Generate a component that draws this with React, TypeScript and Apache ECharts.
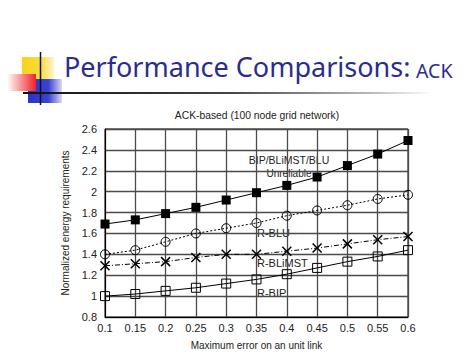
import React, { useEffect, useRef } from "react";
import * as echarts from "echarts";

const xValues = [0.1, 0.15, 0.2, 0.25, 0.3, 0.35, 0.4, 0.45, 0.5, 0.55, 0.6];
const unreliable = [1.69, 1.73, 1.79, 1.85, 1.92, 1.99, 2.06, 2.14, 2.25, 2.36, 2.49];
const rBLU = [1.4, 1.44, 1.52, 1.6, 1.65, 1.7, 1.77, 1.82, 1.87, 1.93, 1.97];
const rBLiMST = [1.29, 1.31, 1.33, 1.37, 1.4, 1.4, 1.43, 1.46, 1.5, 1.54, 1.57];
const rBIP = [1.0, 1.02, 1.05, 1.08, 1.12, 1.16, 1.21, 1.27, 1.33, 1.38, 1.44];

const FONT = "Liberation Sans, Arial, sans-serif";
const NAVY = "#2b2d8e";

function pairs(ys: number[]) {
  return xValues.map((x, i) => [x, ys[i]]);
}

export default function App() {
  const ref = useRef<HTMLDivElement>(null);
  useEffect(() => {
    if (!ref.current) return;
    const chart = echarts.init(ref.current, null, { renderer: "svg" });
    const baseLine = { color: "#000", width: 1 };
    chart.setOption({
      animation: false,
      backgroundColor: "#fff",
      grid: { left: 105, right: 66, top: 129, bottom: 36, show: true, borderColor: "#000", borderWidth: 1 },
      xAxis: {
        type: "value",
        min: 0.1,
        max: 0.6,
        interval: 0.05,
        name: "Maximum error on an unit link",
        nameLocation: "middle",
        nameGap: 23,
        nameTextStyle: { fontFamily: FONT, fontSize: 10, color: "#222" },
        axisLine: { show: true, lineStyle: { color: "#000" } },
        axisTick: { show: false },
        axisLabel: {
          fontFamily: FONT,
          fontSize: 11,
          color: "#222",
          margin: 5,
          formatter: (v: number) => String(Math.round(v * 100) / 100),
        },
        splitLine: { show: true, lineStyle: { color: "#4a4a4a", width: 1.3 } },
      },
      yAxis: {
        type: "value",
        min: 0.8,
        max: 2.6,
        interval: 0.2,
        name: "Normalized energy requirements",
        nameLocation: "middle",
        nameGap: 26,
        nameTextStyle: { fontFamily: FONT, fontSize: 10, color: "#222" },
        axisLine: { show: true, lineStyle: { color: "#000" } },
        axisTick: { show: false },
        axisLabel: {
          fontFamily: FONT,
          fontSize: 11,
          color: "#222",
          margin: 8,
          formatter: (v: number) => String(Math.round(v * 10) / 10),
        },
        splitLine: { show: true, lineStyle: { color: "#4a4a4a", width: 1.3 } },
      },
      series: [
        {
          name: "BIP/BLiMST/BLU Unreliable",
          type: "line",
          data: pairs(unreliable),
          symbol: "rect",
          symbolSize: 9,
          lineStyle: { ...baseLine, type: "solid" },
          itemStyle: { color: "#000" },
        },
        {
          name: "R-BLU",
          type: "line",
          data: pairs(rBLU),
          symbol: "circle",
          symbolSize: 9,
          lineStyle: { ...baseLine, type: [2, 2] },
          itemStyle: { color: "rgba(0,0,0,0)", borderColor: "#000", borderWidth: 1 },
        },
        {
          name: "R-BLiMST",
          type: "line",
          data: pairs(rBLiMST),
          symbol: "path://M0,0L10,10M10,0L0,10",
          symbolSize: 9,
          lineStyle: { ...baseLine, type: [5, 2, 1, 2] },
          itemStyle: { color: "rgba(0,0,0,0)", borderColor: "#000", borderWidth: 1.5 },
        },
        {
          name: "R-BIP",
          type: "line",
          data: pairs(rBIP),
          symbol: "rect",
          symbolSize: 9,
          lineStyle: { ...baseLine, type: "solid" },
          itemStyle: { color: "rgba(0,0,0,0)", borderColor: "#000", borderWidth: 1 },
        },
      ],
      graphic: [
        {
          type: "rect",
          shape: { x: 22, y: 57, width: 32, height: 31 },
          style: {
            fill: new echarts.graphic.LinearGradient(0, 0, 1, 0, [
              { offset: 0, color: "#f7d417" },
              { offset: 0.6, color: "#f8dc40" },
              { offset: 1, color: "#fdf6d0" },
            ]),
          },
        },
        {
          type: "rect",
          shape: { x: 28, y: 79, width: 34, height: 24 },
          style: {
            fill: new echarts.graphic.LinearGradient(0, 0, 1, 0, [
              { offset: 0, color: "#2b33c8" },
              { offset: 0.6, color: "#3a42d0" },
              { offset: 1, color: "#d8daf4" },
            ]),
          },
        },
        {
          type: "rect",
          shape: { x: 7, y: 74, width: 29, height: 17 },
          style: {
            fill: new echarts.graphic.LinearGradient(0, 0, 1, 0, [
              { offset: 0, color: "#ffffff" },
              { offset: 1, color: "#f0202a" },
            ]),
          },
        },
        {
          type: "rect",
          shape: { x: 23, y: 92, width: 410, height: 2 },
          style: {
            fill: new echarts.graphic.LinearGradient(0, 0, 1, 0, [
              { offset: 0, color: "#111" },
              { offset: 0.5, color: "#444" },
              { offset: 0.85, color: "#bbb" },
              { offset: 1, color: "#fff" },
            ]),
          },
        },
        {
          type: "line",
          shape: { x1: 40.5, y1: 52, x2: 40.5, y2: 105 },
          style: { stroke: "#111", lineWidth: 1.5 },
        },
        {
          type: "text",
          x: 64,
          y: 80,
          style: {
            text: "Performance Comparisons:",
            fontFamily: "Noto Sans, sans-serif",
            fontSize: 27,
            fill: NAVY,
            textVerticalAlign: "bottom",
          },
        },
        {
          type: "text",
          x: 416,
          y: 80,
          style: {
            text: "ACK",
            fontFamily: "Noto Sans, sans-serif",
            fontSize: 19.5,
            fill: NAVY,
            textVerticalAlign: "bottom",
          },
        },
        {
          type: "text",
          x: 257,
          y: 115,
          style: {
            text: "ACK-based (100 node grid network)",
            fontFamily: FONT,
            fontSize: 10.3,
            fill: "#222",
            align: "center",
            verticalAlign: "middle",
          },
        },
        {
          type: "text",
          x: 289,
          y: 160,
          style: { text: "BIP/BLiMST/BLU", fontFamily: FONT, fontSize: 10.5, fill: "#222", align: "center", verticalAlign: "middle" },
        },
        {
          type: "text",
          x: 289,
          y: 173,
          style: { text: "Unreliable", fontFamily: FONT, fontSize: 10, fill: "#222", align: "center", verticalAlign: "middle" },
        },
        {
          type: "text",
          x: 257,
          y: 233,
          style: { text: "R-BLU", fontFamily: FONT, fontSize: 11, fill: "#222", verticalAlign: "middle" },
        },
        {
          type: "text",
          x: 257,
          y: 263,
          style: { text: "R-BLiMST", fontFamily: FONT, fontSize: 11, fill: "#222", verticalAlign: "middle" },
        },
        {
          type: "text",
          x: 257,
          y: 293,
          style: { text: "R-BIP", fontFamily: FONT, fontSize: 11, fill: "#222", verticalAlign: "middle" },
        },
      ],
    });
    return () => chart.dispose();
  }, []);
  return <div ref={ref} style={{ width: 474, height: 355, position: "fixed", left: 0, top: 0 }} />;
}
